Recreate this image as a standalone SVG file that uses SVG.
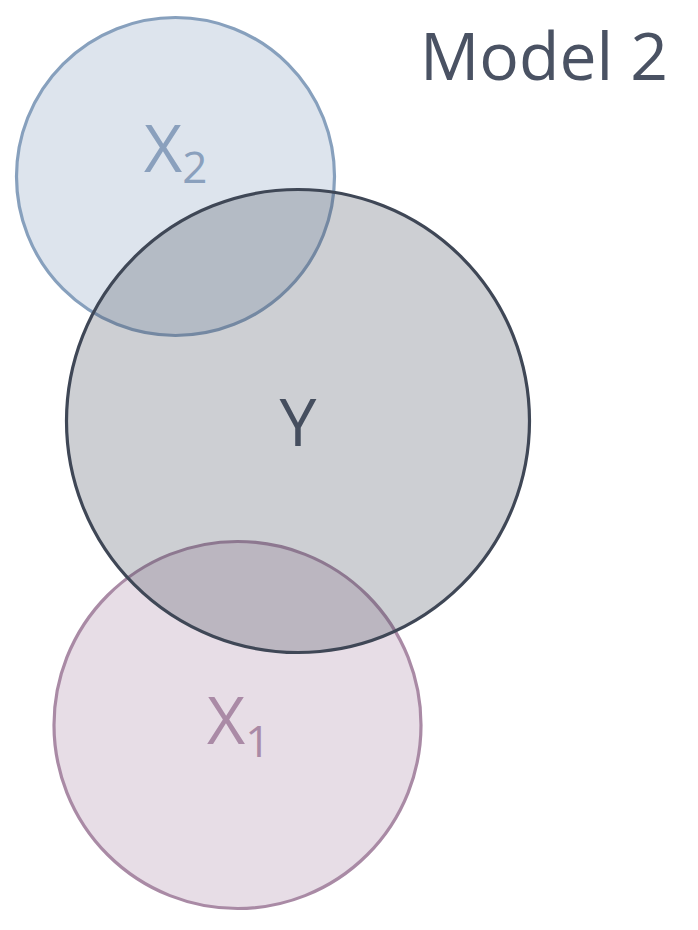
<svg xmlns="http://www.w3.org/2000/svg" width="698" height="930" viewBox="0 0 698 930">
<style>
.lbl{font-family:"Open Sans","Noto Sans","DejaVu Sans",sans-serif;font-size:66px}
.sub{font-size:44px}
.c{stroke-width:3.2}
</style>
<rect width="698" height="930" fill="#ffffff"/>
<g id="title"><text class="lbl" x="668" y="80" text-anchor="end" fill="#4a5263">Model 2</text></g>
<g id="X2">
<circle class="c" cx="175.5" cy="176.5" r="159" fill="#7a96b9" fill-opacity="0.26" stroke="#87a0bd"/>
<text class="lbl" x="144" y="172" fill="#8aa0bd">X<tspan class="sub" dy="11">2</tspan></text>
</g>
<g id="X1">
<circle class="c" cx="237.5" cy="725" r="183.5" fill="#a0789b" fill-opacity="0.25" stroke="#a98aa5"/>
<text class="lbl" x="207" y="744" fill="#aa8aa6">X<tspan class="sub" dy="13">1</tspan></text>
</g>
<g id="Y">
<circle class="c" cx="298" cy="421" r="231.5" fill="#3f4756" fill-opacity="0.26" stroke="#3f4756"/>
<text class="lbl" x="298" y="446" text-anchor="middle" fill="#454e5e">Y</text>
</g>
<g id="connectors"/>
</svg>
